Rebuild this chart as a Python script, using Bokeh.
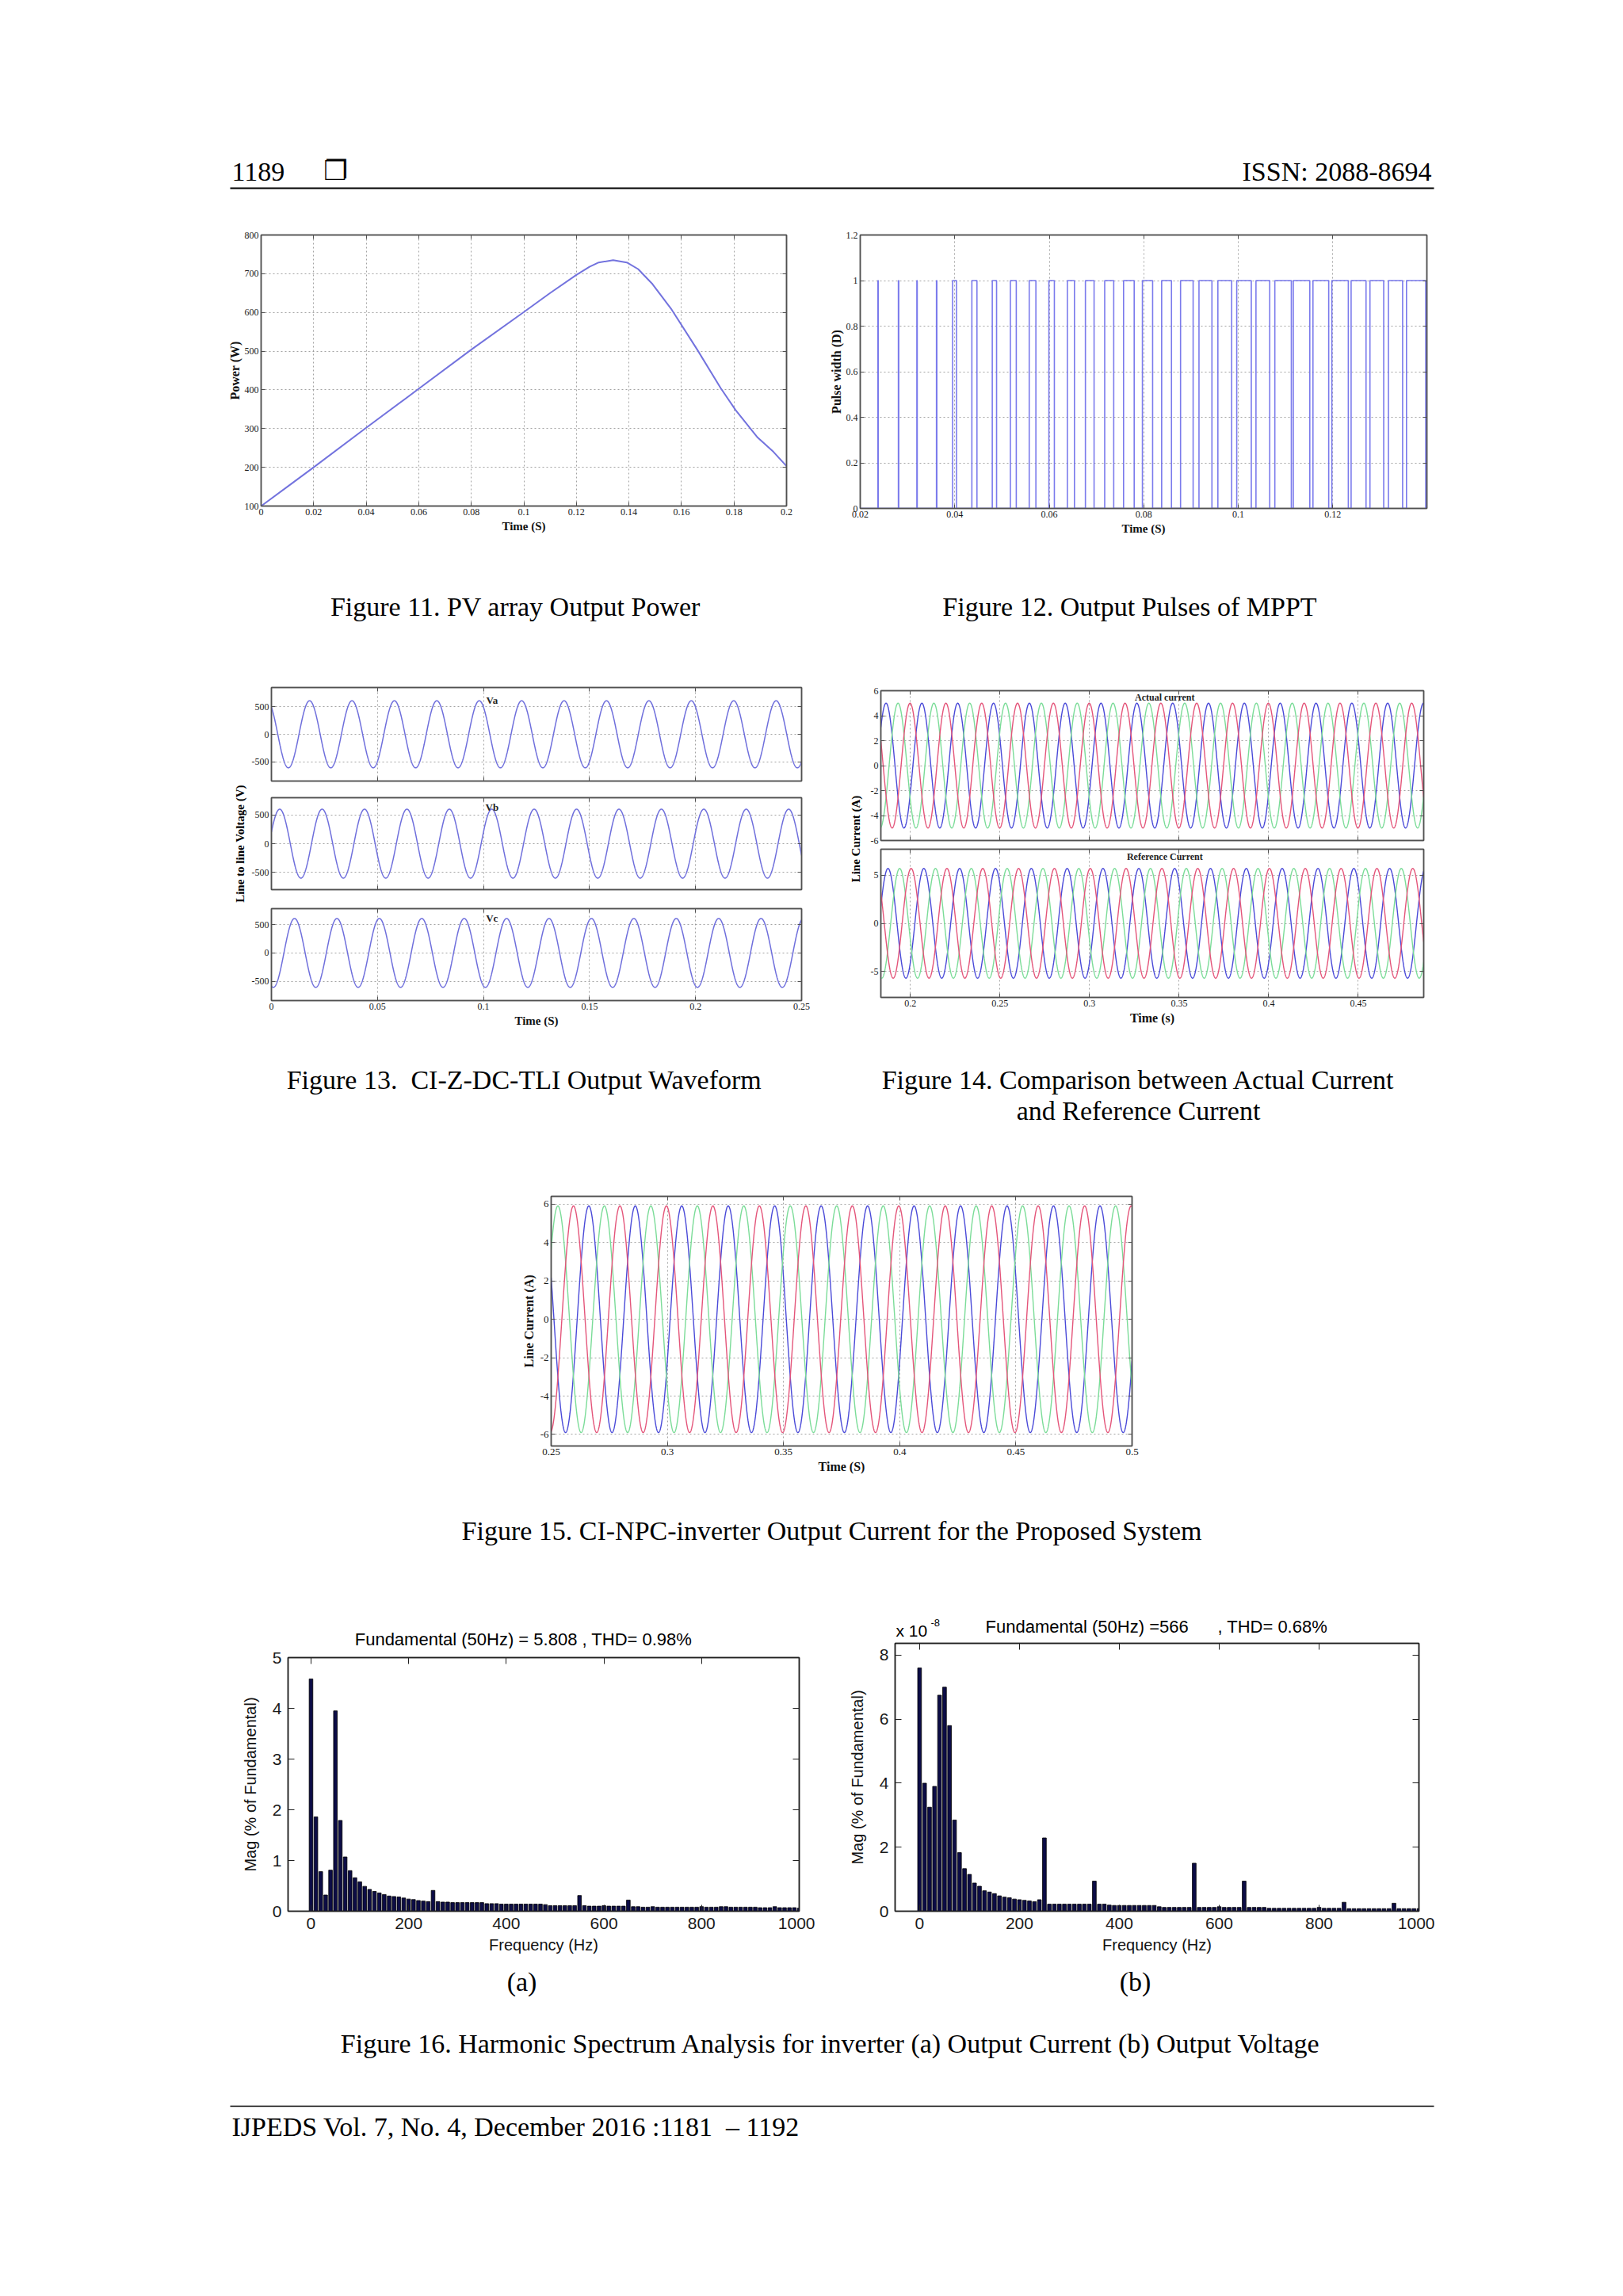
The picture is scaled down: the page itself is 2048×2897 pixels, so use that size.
import numpy as np
from bokeh.plotting import figure
from bokeh.layouts import column, row
from bokeh.models import (Range1d, FixedTicker, LinearAxis, Spacer,
                          CustomJSTickFormatter)
from bokeh.core.properties import value
from bokeh.embed import file_html
from bokeh.resources import INLINE

# ---------------- data ----------------
# Fig 11: PV array output power
pv_time = [0.0, 0.01, 0.02, 0.04, 0.06, 0.08, 0.10, 0.11, 0.12, 0.125, 0.1285, 0.134,
           0.1392, 0.1435, 0.149, 0.156, 0.166, 0.1749, 0.1806, 0.189, 0.195, 0.2]
pv_power = [100, 150, 200, 302, 403, 504, 601, 650, 697, 718, 729, 735,
            729, 712, 673, 610, 504, 405, 348, 277, 240, 203]
pv_xticks = [0, 0.02, 0.04, 0.06, 0.08, 0.1, 0.12, 0.14, 0.16, 0.18, 0.2]
pv_yticks = [100, 200, 300, 400, 500, 600, 700, 800]

# Fig 12: MPPT output pulses (rise time in s, pulse width in s)
pulse_rise = [0.02374, 0.02807, 0.03198, 0.03613, 0.03954, 0.04362, 0.04794, 0.05177,
              0.05576, 0.05992, 0.06383, 0.06765, 0.07173, 0.07572, 0.07971, 0.08378,
              0.08778, 0.09168, 0.09568, 0.09967, 0.10374, 0.10773, 0.11164, 0.11580,
              0.11979, 0.12387, 0.12786, 0.13177, 0.13559]
pulse_width = [0.00008, 0.00008, 0.00008, 0.00008, 0.00083, 0.00108, 0.00091, 0.00125,
               0.00141, 0.00116, 0.00150, 0.00183, 0.00191, 0.00225, 0.00216, 0.00208,
               0.00266, 0.00274, 0.00291, 0.00308, 0.00291, 0.00349, 0.00349, 0.00333,
               0.00349, 0.00316, 0.00291, 0.00300, 0.00407]
pulse_xticks = [0.02, 0.04, 0.06, 0.08, 0.1, 0.12]
pulse_yticks = [0, 0.2, 0.4, 0.6, 0.8, 1.0, 1.2]

# Fig 13: line-to-line voltages (50 Hz sinusoids)
f_grid = 50.0
v_names = ["Va", "Vb", "Vc"]
v_amp = [610, 600, 607]
v_peak_time = [0.0180, 0.0039, 0.0109]
v_ylim = [(-850, 850), (-800, 800), (-840, 780)]
v_xticks = [0, 0.05, 0.1, 0.15, 0.2, 0.25]
v_yticks = [-500, 0, 500]

# Fig 14: actual / reference currents
i_colors = ["#4a4ad8", "#7bdc98", "#e4557a"]          # blue, green, red
act_amp = 5.0
act_peak_time = [0.1864, 0.1931, 0.1998]
ref_amp = 5.7
ref_peak_time = [0.1875, 0.1940, 0.2004]
c14_xticks = [0.2, 0.25, 0.3, 0.35, 0.4, 0.45]
act_yticks = [-6, -4, -2, 0, 2, 4, 6]
ref_yticks = [-5, 0, 5]

# Fig 15: inverter output current
out_amp = 5.9
out_peak_time = [0.2662, 0.2529, 0.2596]               # blue, green, red
c15_xticks = [0.25, 0.3, 0.35, 0.4, 0.45, 0.5]
c15_yticks = [-6, -4, -2, 0, 2, 4, 6]

# Fig 16: harmonic spectra, bins every 10 Hz from 0 to 1000 Hz
harm_freq = list(range(0, 1001, 10))
harm_a = [4.58, 1.86, 0.78, 0.32, 0.81, 3.95, 1.79, 1.07, 0.80, 0.66,
          0.58, 0.49, 0.43, 0.39, 0.36, 0.33, 0.30, 0.29, 0.28, 0.26,
          0.24, 0.23, 0.21, 0.20, 0.19, 0.41, 0.19, 0.18, 0.18, 0.17,
          0.17, 0.17, 0.17, 0.17, 0.17, 0.17, 0.15, 0.15, 0.15, 0.14,
          0.14, 0.14, 0.14, 0.14, 0.14, 0.14, 0.14, 0.14, 0.13, 0.11,
          0.11, 0.11, 0.11, 0.11, 0.11, 0.31, 0.11, 0.10, 0.10, 0.10,
          0.11, 0.10, 0.10, 0.10, 0.10, 0.22, 0.09, 0.09, 0.08, 0.08,
          0.09, 0.08, 0.08, 0.08, 0.08, 0.08, 0.08, 0.08, 0.08, 0.08,
          0.09, 0.08, 0.08, 0.08, 0.09, 0.09, 0.08, 0.08, 0.08, 0.08,
          0.08, 0.08, 0.07, 0.07, 0.07, 0.09, 0.07, 0.07, 0.07, 0.07,
          0.06]
harm_b = [7.60, 4.00, 3.25, 3.90, 6.75, 7.00, 5.80, 2.85, 1.83, 1.33,
          1.15, 0.88, 0.78, 0.64, 0.60, 0.55, 0.48, 0.44, 0.42, 0.38,
          0.36, 0.34, 0.32, 0.30, 0.36, 2.29, 0.22, 0.22, 0.22, 0.22,
          0.22, 0.22, 0.22, 0.22, 0.22, 0.94, 0.22, 0.22, 0.19, 0.18,
          0.18, 0.18, 0.18, 0.18, 0.18, 0.18, 0.18, 0.18, 0.14, 0.12,
          0.12, 0.12, 0.12, 0.12, 0.12, 1.50, 0.12, 0.12, 0.12, 0.12,
          0.14, 0.12, 0.12, 0.12, 0.12, 0.94, 0.12, 0.12, 0.12, 0.12,
          0.09, 0.09, 0.09, 0.09, 0.09, 0.09, 0.09, 0.09, 0.09, 0.09,
          0.12, 0.09, 0.09, 0.09, 0.09, 0.28, 0.08, 0.08, 0.08, 0.08,
          0.08, 0.08, 0.08, 0.08, 0.08, 0.25, 0.08, 0.08, 0.08, 0.08,
          0.08]
harm_xticks = [0, 200, 400, 600, 800, 1000]
harm_a_yticks = [0, 1, 2, 3, 4, 5]
harm_b_yticks = [0, 2, 4, 6, 8]

# ---------------- helpers ----------------
PW = 2048
SERIF = "Liberation Serif"
SANS = "Liberation Sans"
NB = "\u00a0"


def num_fmt():
    return CustomJSTickFormatter(code="return String(Math.round(tick*1e6)/1e6)")


def blank_fmt():
    return CustomJSTickFormatter(code="return ''")


def strip(x0, x1, y0, y1, bl=0, br=0):
    """A text strip whose frame spans page x (x0+bl .. x1-br) and page y (y0 .. y1)."""
    p = figure(width=x1 - x0, height=y1 - y0, x_range=Range1d(x0 + bl, x1 - br),
               y_range=Range1d(y1, y0), x_axis_type=None, y_axis_type=None,
               min_border=0, min_border_left=bl, min_border_right=br,
               outline_line_color=None, output_backend="svg",
               toolbar_location=None, background_fill_color="white",
               border_fill_color="white")
    return p


def put(p, x, y, s, size=34, font=SERIF, align="center", baseline="middle",
        style="normal", angle=0.0):
    p.text(x=[x], y=[y], text=[s], text_font=value(font),
           text_font_size=f"{size}px", text_align=align,
           text_baseline=baseline, text_font_style=style, text_color="black",
           angle=angle)


def panel(fw, fh, xr, yr, bl, br, bt, bb, xt, yt, tick_size=13, font=SERIF,
          show_xlabels=True, grid=True, outline="#505050", tick_in=5):
    p = figure(frame_width=fw, frame_height=fh, x_range=Range1d(*xr),
               y_range=Range1d(*yr), min_border_left=bl, min_border_right=br,
               min_border_top=bt, min_border_bottom=bb, output_backend="svg",
               toolbar_location=None, background_fill_color="white",
               border_fill_color="white")
    bottom, left = p.below[0], p.left[0]
    bottom.ticker = FixedTicker(ticks=xt)
    left.ticker = FixedTicker(ticks=yt)
    for ax in (bottom, left):
        ax.formatter = num_fmt()
        ax.major_tick_in = tick_in
        ax.major_tick_out = 0
        ax.minor_tick_line_color = None
        ax.major_label_text_font = font
        ax.major_label_text_font_size = f"{tick_size}px"
        ax.major_label_text_color = "#1a1a1a"
        ax.axis_line_color = outline
        ax.axis_line_width = 1.5
        ax.major_tick_line_color = outline
        ax.major_label_standoff = 3
        ax.axis_label_text_font = font
        ax.axis_label_text_font_style = "bold"
        ax.axis_label_text_color = "#111111"
        ax.axis_label_standoff = 3
    if not show_xlabels:
        bottom.formatter = blank_fmt()
        bottom.major_label_text_font_size = "1px"
        bottom.major_label_standoff = 0
    for side, tk in (("right", yt), ("above", xt)):
        ax = LinearAxis(ticker=FixedTicker(ticks=tk), formatter=blank_fmt(),
                        major_label_text_font_size="1px",
                        major_tick_in=tick_in, major_tick_out=0,
                        minor_tick_line_color=None, axis_line_color=outline,
                        axis_line_width=1.5, major_tick_line_color=outline,
                        major_label_standoff=0)
        p.add_layout(ax, side)
    p.outline_line_color = outline
    p.outline_line_width = 1.5
    if grid:
        p.xgrid.ticker = FixedTicker(ticks=xt)
        p.ygrid.ticker = FixedTicker(ticks=yt)
        p.grid.grid_line_color = "#8c8c8c"
        p.grid.grid_line_dash = "2 3"
        p.grid.grid_line_alpha = 0.8
    else:
        p.grid.visible = False
    return p


def wave(t, amp, peak):
    return amp * np.cos(2 * np.pi * f_grid * (t - peak))


# ---------------- R0 header (page y 0..260) ----------------
hdr = strip(0, PW, 0, 260)
put(hdr, 292, 216, "1189", align="left")
put(hdr, 423, 214, "\u2750", size=34, font="DejaVu Sans")
put(hdr, 1806, 216, "ISSN: 2088-8694", align="right")
hdr.segment(x0=[290], y0=[237], x1=[1809], y1=[237], line_color="black", line_width=2)

# ---------------- R1 figs 11 & 12 (page y 260..740) ----------------
p11 = panel(663, 342, (0, 0.2), (100, 800), 60, 30, 36, 102, pv_xticks, pv_yticks,
            tick_size=12)
p11.line(pv_time, pv_power, line_color="#7373de", line_width=2)
p11.below[0].axis_label = "Time (S)"
p11.below[0].axis_label_text_font_size = "15px"
p11.left[0].axis_label = "Power (W)"
p11.left[0].axis_label_text_font_size = "16px"
p11.left[0].axis_label_standoff = 1

pulse_x, pulse_y = [0.02], [0]
for r, w in zip(pulse_rise, pulse_width):
    pulse_x += [r, r, r + w, r + w]
    pulse_y += [0, 1, 1, 0]
pulse_x.append(0.1399)
pulse_y.append(0)

p12 = panel(715, 345, (0.02, 0.1399), (0, 1.2), 45, 30, 36, 99, pulse_xticks,
            pulse_yticks, tick_size=12)
p12.line(pulse_x, pulse_y, line_color="#6c6cea", line_width=1.6, line_alpha=0.9)
p12.below[0].axis_label = "Time (S)"
p12.below[0].axis_label_text_font_size = "15px"
p12.left[0].axis_label = "Pulse width (D)"
p12.left[0].axis_label_text_font_size = "16px"
p12.left[0].axis_label_standoff = 1

r1 = row([Spacer(width=269, height=480), p11, Spacer(width=18, height=480), p12],
         spacing=0)

# ---------------- R2 captions (page y 740..850) ----------------
cap1 = strip(0, PW, 740, 850)
put(cap1, 650, 765, "Figure 11. PV array Output Power")
put(cap1, 1425, 765, "Figure 12. Output Pulses of MPPT")

# ---------------- R3 figs 13 & 14 (page y 850..1310) ----------------
lbl13 = strip(282, 312, 850, 1310)
put(lbl13, 302, 1064, "Line to line Voltage (V)", size=15, style="bold",
    angle=np.pi / 2)

t13 = np.linspace(0, 0.25, 3000)
borders13 = [(17, 10), (11, 12), (12, 48)]
heights13 = [118, 116, 116]
label_y13 = [620, 634, 612]
panels13 = []
for k in range(3):
    bt, bb = borders13[k]
    p = panel(669, heights13[k], (0, 0.25), v_ylim[k], 30, 20, bt, bb, v_xticks,
              v_yticks, tick_size=12, show_xlabels=(k == 2))
    p.line(t13, wave(t13, v_amp[k], v_peak_time[k]), line_color="#6f6fdc",
           line_width=1.5)
    p.text(x=[0.104], y=[label_y13[k]], text=[v_names[k]], text_font=value(SERIF),
           text_font_size="13px", text_font_style="bold", text_align="center",
           text_baseline="middle", text_color="#222222")
    panels13.append(p)
panels13[2].below[0].axis_label = "Time (S)"
panels13[2].below[0].axis_label_text_font_size = "15px"
col13 = column(panels13, spacing=0)

lbl14 = strip(1031, 1089, 850, 1310)
put(lbl14, 1079, 1058, "Line Current (A)", size=15, style="bold", angle=np.pi / 2)

t14 = np.linspace(0.1835, 0.4865, 4000)
p14a = panel(685, 189, (0.1835, 0.4865), (-6, 6), 22, 20, 21, 7, c14_xticks,
             act_yticks, tick_size=12, show_xlabels=False)
p14b = panel(685, 187, (0.1835, 0.4865), (-7.7, 7.7), 22, 20, 4, 52, c14_xticks,
             ref_yticks, tick_size=12)
for k in range(3):
    p14a.line(t14, wave(t14, act_amp, act_peak_time[k]), line_color=i_colors[k],
              line_width=1.4)
    p14b.line(t14, wave(t14, ref_amp, ref_peak_time[k]), line_color=i_colors[k],
              line_width=1.4)
p14a.text(x=[0.342], y=[5.45], text=["Actual current"], text_font=value(SERIF),
          text_font_size="12px", text_font_style="bold", text_align="center",
          text_baseline="middle", text_color="#222222")
p14b.text(x=[0.342], y=[6.95], text=["Reference Current"], text_font=value(SERIF),
          text_font_size="12px", text_font_style="bold", text_align="center",
          text_baseline="middle", text_color="#222222")
p14b.below[0].axis_label = "Time (s)"
p14b.below[0].axis_label_text_font_size = "16px"
col14 = column([p14a, p14b], spacing=0)

r3 = row([Spacer(width=282, height=460), lbl13, col13, lbl14, col14], spacing=0)

# ---------------- R4 captions (page y 1310..1480) ----------------
cap2 = strip(0, PW, 1310, 1480)
put(cap2, 661, 1362, "Figure 13." + NB + " CI-Z-DC-TLI Output Waveform")
put(cap2, 1436, 1362, "Figure 14. Comparison between Actual Current")
put(cap2, 1436, 1401, "and Reference Current")

# ---------------- R5 fig 15 (page y 1480..1880) ----------------
t15 = np.linspace(0.25, 0.5, 4000)
p15 = panel(733, 315, (0.25, 0.5), (-6.6, 6.4), 60, 20, 29, 56, c15_xticks,
            c15_yticks, tick_size=13)
for k in range(3):
    p15.line(t15, wave(t15, out_amp, out_peak_time[k]), line_color=i_colors[k],
             line_width=1.4)
p15.below[0].axis_label = "Time (S)"
p15.below[0].axis_label_text_font_size = "16px"
p15.left[0].axis_label = "Line Current (A)"
p15.left[0].axis_label_text_font_size = "16px"
r5 = row([Spacer(width=635, height=400), p15], spacing=0)

# ---------------- R6 caption (page y 1880..2040) ----------------
cap3 = strip(0, PW, 1880, 2040)
put(cap3, 1049, 1931, "Figure 15. CI-NPC-inverter Output Current for the Proposed System")


# ---------------- R7 fig 16 (page y 2040..2470) ----------------
def harm_panel(fw, fh, xr, yr, bt, yt, vals):
    p = panel(fw, fh, xr, yr, 63, 20, bt, 59, harm_xticks, yt, tick_size=21,
              font=SANS, grid=False, outline="#202020", tick_in=8)
    p.vbar(x=harm_freq, top=vals, width=7.5, bottom=0, fill_color="#0c0c46",
           line_color="#000000", line_width=0.8)
    bottom, left = p.below[0], p.left[0]
    for ax in (bottom, left):
        ax.axis_label_text_font_style = "normal"
        ax.axis_label_text_font_size = "20px"
        ax.major_label_standoff = 8
    bottom.axis_label = "Frequency (Hz)"
    bottom.axis_label_standoff = 6
    left.axis_label = "Mag (% of Fundamental)"
    left.axis_label_standoff = 14
    return p


# (a): figure spans page x 300..1028 (frame 363..1008), frame top at 2091
ttl_a = strip(300, 1028, 2040, 2080, bl=63, br=20)
put(ttl_a, 660, 2068, "Fundamental (50Hz) = 5.808 , THD= 0.98%", size=22, font=SANS)
p16a = harm_panel(645, 320, (-47, 1000), (0, 5), 11, harm_a_yticks, harm_a)
col16a = column([ttl_a, p16a], spacing=0)

# (b): figure spans page x 1066..1810 (frame 1129..1790), frame top at 2073
ttl_b = strip(1066, 1810, 2040, 2070, bl=63, br=20)
put(ttl_b, 1243, 2052, "Fundamental (50Hz) =566" + NB * 6 + ", THD= 0.68%", size=22,
    font=SANS, align="left")
put(ttl_b, 1130, 2057, "x 10", size=21, font=SANS, align="left")
put(ttl_b, 1174, 2047, "-8", size=13, font=SANS, align="left")
p16b = harm_panel(661, 338, (-49, 1000), (0, 8.37), 3, harm_b_yticks, harm_b)
col16b = column([ttl_b, p16b], spacing=0)

r7 = row([Spacer(width=300, height=430), col16a, Spacer(width=38, height=430), col16b],
         spacing=0)

# ---------------- R8 bottom text (page y 2470..2897) ----------------
bot = strip(0, PW, 2470, 2897)
put(bot, 658, 2500, "(a)")
put(bot, 1432, 2500, "(b)")
put(bot, 1048, 2578, "Figure 16. Harmonic Spectrum Analysis for inverter (a) Output Current (b) Output Voltage")
bot.segment(x0=[290], y0=[2657], x1=[1809], y1=[2657], line_color="black", line_width=1.5)
put(bot, 292, 2683, "IJPEDS Vol. 7, No. 4, December 2016 :1181" + NB + " \u2013 1192", align="left")

page = column([hdr, r1, cap1, r3, cap2, r5, cap3, r7, bot], spacing=0)
open("out.html", "w").write(file_html(page, INLINE))
